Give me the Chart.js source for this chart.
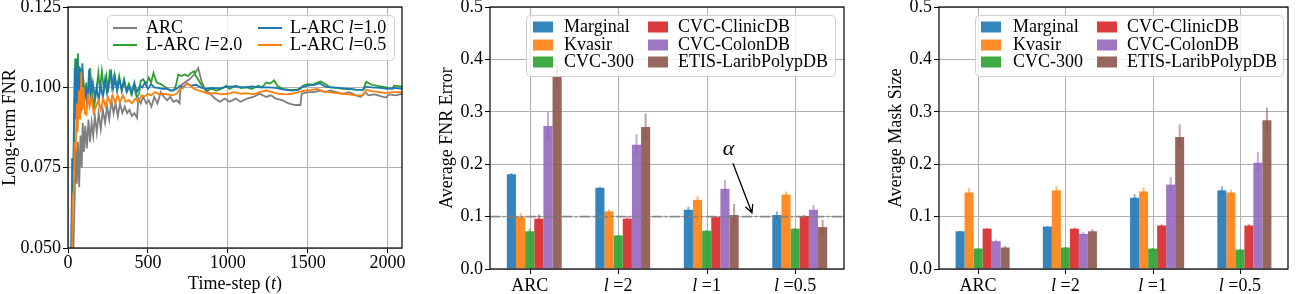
<!DOCTYPE html>
<html lang="en">
<head>
<meta charset="UTF-8">
<title>Long-term FNR, average FNR error and average mask size</title>
<script src="https://cdn.jsdelivr.net/npm/chart.js@4.4.1/dist/chart.umd.min.js"></script>
<style>
    body { margin: 0; background: #fff; }
    .panel { position: absolute; top: 0; height: 294px; }
    #p1 { left: 0; }
    #p2 { left: 420px; }
    #p3 { left: 860px; }
    canvas { display: block; }
</style>
</head>
<body>
<div class="panel" id="p1"><canvas id="fnrChart" width="420" height="294"></canvas></div>
<div class="panel" id="p2"><canvas id="errChart" width="440" height="294"></canvas></div>
<div class="panel" id="p3"><canvas id="maskChart" width="437" height="294"></canvas></div>

<script>
// ---------- values ----------

// left panel: long-term FNR over time, [time-step, value]
const arcFnr = [
    [25, 0.030], [40, 0.062], [48, 0.081], [55, 0.070], [62, 0.083], [70, 0.069], [78, 0.085], [86, 0.075],
    [92, 0.089], [100, 0.080], [108, 0.088], [118, 0.081], [128, 0.090], [138, 0.083], [148, 0.089], [158, 0.085],
    [168, 0.091], [180, 0.086], [192, 0.092], [205, 0.087], [218, 0.093], [232, 0.089], [245, 0.094], [258, 0.090],
    [272, 0.096], [285, 0.092], [298, 0.095], [312, 0.091], [325, 0.095], [340, 0.092], [355, 0.094], [370, 0.092],
    [385, 0.093], [400, 0.091], [415, 0.092], [432, 0.0905], [440, 0.0965], [455, 0.095], [470, 0.097], [490, 0.095],
    [505, 0.096], [522, 0.094], [540, 0.097], [560, 0.095], [580, 0.0985], [600, 0.097], [620, 0.096], [640, 0.097],
    [660, 0.0955], [680, 0.096], [698, 0.095], [705, 0.1005], [730, 0.1015], [760, 0.1025], [790, 0.104], [815, 0.106],
    [835, 0.102], [860, 0.099], [890, 0.098], [920, 0.0965], [950, 0.0955], [980, 0.0965], [1010, 0.0955], [1050, 0.0965],
    [1080, 0.0955], [1120, 0.0965], [1160, 0.097], [1200, 0.098], [1240, 0.097], [1270, 0.0975], [1300, 0.0965], [1340, 0.096],
    [1380, 0.095], [1420, 0.0945], [1455, 0.0945], [1462, 0.098], [1500, 0.0985], [1540, 0.0985], [1575, 0.099], [1610, 0.0985],
    [1640, 0.099], [1680, 0.0985], [1720, 0.098], [1760, 0.0985], [1790, 0.0978], [1830, 0.097], [1860, 0.0985], [1880, 0.0975],
    [1920, 0.0978], [1960, 0.0972], [1990, 0.0968], [2010, 0.0978], [2050, 0.0975], [2090, 0.098]
];
const larc20Fnr = [
    [18, 0.030], [28, 0.078], [35, 0.074], [45, 0.109], [52, 0.095], [62, 0.1105], [70, 0.094], [78, 0.106],
    [86, 0.098], [95, 0.103], [105, 0.096], [115, 0.1015], [125, 0.095], [137, 0.106], [150, 0.099], [162, 0.0935],
    [175, 0.098], [190, 0.1045], [200, 0.099], [212, 0.105], [225, 0.099], [240, 0.1035], [252, 0.0985], [262, 0.1055],
    [275, 0.100], [290, 0.104], [305, 0.0995], [320, 0.1035], [335, 0.099], [350, 0.1025], [365, 0.099], [380, 0.101],
    [395, 0.098], [410, 0.1005], [430, 0.097], [445, 0.098], [455, 0.102], [470, 0.1025], [490, 0.101], [505, 0.103],
    [520, 0.1015], [535, 0.1045], [555, 0.1015], [580, 0.101], [610, 0.100], [640, 0.099], [660, 0.099], [675, 0.1005],
    [690, 0.104], [710, 0.1035], [730, 0.104], [750, 0.1035], [770, 0.1045], [790, 0.105], [800, 0.1035], [820, 0.102],
    [845, 0.100], [870, 0.099], [900, 0.0995], [930, 0.099], [960, 0.0995], [990, 0.1005], [1010, 0.0995], [1050, 0.1005],
    [1080, 0.0998], [1120, 0.100], [1150, 0.0995], [1190, 0.1005], [1215, 0.100], [1240, 0.1015], [1265, 0.1012], [1290, 0.1022],
    [1310, 0.1005], [1345, 0.0995], [1380, 0.0993], [1420, 0.0992], [1455, 0.0995], [1470, 0.1005], [1500, 0.101], [1530, 0.1008],
    [1560, 0.1015], [1580, 0.1018], [1610, 0.101], [1640, 0.100], [1680, 0.0998], [1720, 0.0995], [1760, 0.0995], [1800, 0.0993],
    [1846, 0.0992], [1866, 0.1017], [1900, 0.1008], [1930, 0.1005], [1990, 0.100], [2030, 0.0995], [2040, 0.1005], [2090, 0.1002]
];
const larc10Fnr = [
    [15, 0.030], [27, 0.078], [33, 0.074], [42, 0.106], [48, 0.090], [54, 0.109], [62, 0.094], [72, 0.1065],
    [80, 0.092], [90, 0.1075], [100, 0.096], [110, 0.1005], [121, 0.094], [132, 0.1055], [142, 0.097], [155, 0.1015],
    [168, 0.097], [180, 0.100], [192, 0.096], [205, 0.1005], [218, 0.097], [232, 0.1025], [245, 0.098], [258, 0.102],
    [270, 0.1045], [282, 0.0995], [295, 0.103], [308, 0.099], [322, 0.1025], [338, 0.099], [352, 0.102], [368, 0.0985],
    [385, 0.1005], [400, 0.098], [415, 0.1015], [430, 0.0985], [450, 0.1005], [465, 0.100], [480, 0.1015], [500, 0.0995],
    [520, 0.101], [540, 0.100], [560, 0.0998], [590, 0.0995], [620, 0.0995], [650, 0.099], [680, 0.0995], [700, 0.1005],
    [720, 0.100], [745, 0.1012], [770, 0.1005], [800, 0.1008], [830, 0.100], [860, 0.0995], [900, 0.0998], [950, 0.0997],
    [1000, 0.1002], [1050, 0.1003], [1100, 0.100], [1150, 0.1003], [1200, 0.100], [1250, 0.100], [1300, 0.0998], [1350, 0.0993],
    [1400, 0.099], [1440, 0.0992], [1460, 0.100], [1500, 0.1005], [1540, 0.1008], [1575, 0.1012], [1610, 0.1002], [1650, 0.100],
    [1700, 0.0998], [1750, 0.0995], [1800, 0.0993], [1846, 0.0992], [1866, 0.1002], [1900, 0.100], [1950, 0.0998], [2000, 0.0995],
    [2040, 0.0998], [2090, 0.0995]
];
const larc05Fnr = [
    [20, 0.030], [30, 0.066], [36, 0.068], [42, 0.083], [48, 0.080], [55, 0.095], [60, 0.086], [68, 0.099],
    [75, 0.090], [83, 0.1048], [90, 0.093], [97, 0.100], [105, 0.092], [115, 0.0915], [125, 0.098], [135, 0.094],
    [148, 0.097], [160, 0.092], [175, 0.094], [190, 0.096], [205, 0.093], [220, 0.0965], [235, 0.094], [250, 0.097],
    [265, 0.095], [280, 0.0975], [295, 0.095], [310, 0.0975], [325, 0.0955], [345, 0.0975], [360, 0.0955], [380, 0.096],
    [400, 0.095], [420, 0.0965], [440, 0.0955], [460, 0.0975], [480, 0.0972], [500, 0.098], [520, 0.0975], [545, 0.0985],
    [570, 0.0978], [595, 0.098], [620, 0.0978], [650, 0.0975], [680, 0.098], [700, 0.0995], [720, 0.0998], [745, 0.1012],
    [765, 0.1005], [790, 0.0995], [820, 0.099], [850, 0.0985], [880, 0.098], [920, 0.0983], [960, 0.0978], [1000, 0.098],
    [1040, 0.0985], [1080, 0.098], [1120, 0.0982], [1160, 0.0978], [1200, 0.0985], [1240, 0.099], [1280, 0.0985], [1320, 0.098],
    [1360, 0.0978], [1400, 0.098], [1440, 0.0985], [1480, 0.099], [1520, 0.0992], [1560, 0.0995], [1590, 0.0988], [1630, 0.0985],
    [1670, 0.0983], [1720, 0.098], [1760, 0.0978], [1800, 0.0975], [1846, 0.0975], [1866, 0.0992], [1900, 0.0988], [1950, 0.0985],
    [1990, 0.0982], [2030, 0.0985], [2090, 0.0985]
];
const lineLabels = ['ARC', 'L-ARC *l*=2.0', 'L-ARC *l*=1.0', 'L-ARC *l*=0.5'];
const lineColors = ['#7f7f7f', '#2ca02c', '#1f77b4', '#ff7f0e'];
const fnrTicks = [0.050, 0.075, 0.100, 0.125];
const timeTicks = [0, 500, 1000, 1500, 2000];

// bar panels: one row per dataset, one value per method
const methods = ['ARC', '*l* =2', '*l* =1', '*l* =0.5'];
const datasetNames = ['Marginal', 'Kvasir', 'CVC-300', 'CVC-ClinicDB', 'CVC-ColonDB', 'ETIS-LaribPolypDB'];
const barColors = ['31,119,180', '255,127,14', '44,160,44', '214,39,40', '148,103,189', '140,86,75'];

const fnrErrMean = [
    [0.181, 0.155, 0.113, 0.103],
    [0.099, 0.110, 0.132, 0.142],
    [0.072, 0.064, 0.073, 0.077],
    [0.096, 0.096, 0.099, 0.101],
    [0.273, 0.237, 0.153, 0.113],
    [0.368, 0.271, 0.103, 0.080]
];
const fnrErrSpread = [
    [0.002, 0.002, 0.006, 0.007],
    [0.008, 0.004, 0.007, 0.006],
    [0.005, 0.001, 0.001, 0.001],
    [0.008, 0.003, 0.002, 0.002],
    [0.027, 0.020, 0.017, 0.009],
    [0.021, 0.026, 0.021, 0.014]
];
const maskMean = [
    [0.072, 0.081, 0.136, 0.150],
    [0.146, 0.150, 0.148, 0.146],
    [0.039, 0.041, 0.039, 0.037],
    [0.077, 0.077, 0.083, 0.083],
    [0.053, 0.067, 0.161, 0.203],
    [0.041, 0.072, 0.252, 0.284]
];
const maskSpread = [
    [0.001, 0.001, 0.007, 0.008],
    [0.008, 0.008, 0.008, 0.006],
    [0.001, 0.001, 0.001, 0.001],
    [0.001, 0.002, 0.002, 0.002],
    [0.003, 0.004, 0.014, 0.020],
    [0.003, 0.004, 0.024, 0.024]
];
const alphaLevel = 0.1;

// ---------- drawing helpers ----------
const FONT_FAMILY = '"Liberation Serif", "Times New Roman", serif';
const FONT_SIZE = 18;
Chart.defaults.font.family = FONT_FAMILY;
Chart.defaults.font.size = FONT_SIZE;
Chart.defaults.color = '#000';
Chart.defaults.animation = false;

// labels use *...* to mark italic pieces (math symbols)
function richParts(label) {
    return label.split('*').map((s, i) => ({ text: s, italic: i % 2 === 1 })).filter(p => p.text);
}
function fontFor(size, italic) {
    return (italic ? 'italic ' : '') + size + 'px ' + FONT_FAMILY;
}
function drawRich(ctx, label, x, y, size, align) {
    const parts = richParts(label);
    let total = 0;
    parts.forEach(p => {
        ctx.font = fontFor(size, p.italic);
        p.w = ctx.measureText(p.text).width;
        total += p.w;
    });
    let cx = align === 'center' ? x - total / 2 : (align === 'right' ? x - total : x);
    ctx.textAlign = 'left';
    ctx.textBaseline = 'middle';
    parts.forEach(p => {
        ctx.font = fontFor(size, p.italic);
        ctx.fillText(p.text, cx, y);
        cx += p.w;
    });
}
function drawYTitle(ctx, text, x, y) {
    ctx.save();
    ctx.translate(x, y);
    ctx.rotate(-Math.PI / 2);
    ctx.fillStyle = '#000';
    drawRich(ctx, text, 0, 0, FONT_SIZE, 'center');
    ctx.restore();
}
function drawSpines(ctx, area) {
    ctx.save();
    ctx.strokeStyle = '#000';
    ctx.lineWidth = 1.2;
    ctx.strokeRect(area.left, area.top, area.right - area.left, area.bottom - area.top);
    ctx.restore();
}
function drawLegend(ctx, spec, labels, colors, kind) {
    ctx.save();
    ctx.beginPath();
    if (ctx.roundRect) ctx.roundRect(spec.box[0] + 0.5, spec.box[1] + 0.5, spec.box[2], spec.box[3], 4);
    else ctx.rect(spec.box[0] + 0.5, spec.box[1] + 0.5, spec.box[2], spec.box[3]);
    ctx.fillStyle = 'rgba(255,255,255,0.8)';
    ctx.fill();
    ctx.strokeStyle = '#d0d0d0';
    ctx.lineWidth = 1;
    ctx.stroke();
    labels.forEach((lab, i) => {
        const col = Math.floor(i / spec.rows.length);
        const y = spec.rows[i % spec.rows.length];
        const hx = spec.handleX[col];
        if (kind === 'line') {
            ctx.strokeStyle = colors[i];
            ctx.lineWidth = 2;
            ctx.beginPath();
            ctx.moveTo(hx, y);
            ctx.lineTo(hx + spec.handleW, y);
            ctx.stroke();
        } else {
            ctx.fillStyle = 'rgba(' + colors[i] + ',0.9)';
            ctx.fillRect(hx, y - spec.handleH / 2, spec.handleW, spec.handleH);
        }
        ctx.fillStyle = '#000';
        drawRich(ctx, lab, spec.textX[col], y, FONT_SIZE, 'left');
    });
    ctx.restore();
}

// pin the plotting area to fixed pixels
function fixWidth(w) {
    return s => { s.width = w; s.paddingLeft = s.paddingRight = s.paddingTop = s.paddingBottom = 0; };
}
function fixHeight(h) {
    return s => { s.height = h; s.paddingLeft = s.paddingRight = s.paddingTop = s.paddingBottom = 0; };
}

// ---------- left panel: long-term FNR ----------
const lineSeries = [arcFnr, larc20Fnr, larc10Fnr, larc05Fnr];

new Chart(document.getElementById('fnrChart'), {
    type: 'line',
    data: {
        datasets: lineSeries.map((pts, i) => ({
            label: lineLabels[i].replace(/\*/g, ''),
            data: pts.map(([t, v]) => ({ x: t, y: v })),
            borderColor: lineColors[i],
            borderWidth: 1.8,
            pointRadius: 0,
            tension: 0,
            order: lineSeries.length - i
        }))
    },
    options: {
        responsive: false,
        layout: { padding: { top: 7, right: 18, left: 0, bottom: 0 } },
        plugins: { legend: { display: false }, tooltip: { enabled: false } },
        scales: {
            x: {
                type: 'linear',
                min: 0,
                max: 2090,
                afterBuildTicks: s => { s.ticks = timeTicks.map(v => ({ value: v })); },
                afterFit: fixHeight(46),
                ticks: { padding: 1, maxRotation: 0, font: { lineHeight: 1 }, callback: v => String(v) },
                grid: { color: '#b0b0b0', tickColor: '#000', tickLength: 5 },
                border: { display: false }
            },
            y: {
                min: 0.05,
                max: 0.125,
                afterBuildTicks: s => { s.ticks = fnrTicks.map(v => ({ value: v })); },
                afterFit: fixWidth(68),
                ticks: { padding: 2, callback: v => v.toFixed(3) },
                grid: { color: '#b0b0b0', tickColor: '#000', tickLength: 5 },
                border: { display: false }
            }
        }
    },
    plugins: [{
        id: 'fnrDecor',
        afterDraw(chart) {
            const ctx = chart.ctx, area = chart.chartArea;
            drawSpines(ctx, area);
            drawLegend(ctx, {
                box: [107, 15, 287, 45],
                rows: [28, 45],
                handleX: [113, 258], handleW: 24,
                textX: [146, 290]
            }, lineLabels, lineColors, 'line');
            ctx.fillStyle = '#000';
            drawRich(ctx, 'Time-step (*t*)', (area.left + area.right) / 2, 284, FONT_SIZE, 'center');
            drawYTitle(ctx, 'Long-term FNR', 10, (area.top + area.bottom) / 2);
        }
    }]
});

// ---------- bar panels ----------
function barChart(canvasId, means, spreads, opts) {
    const yTicks = [0, 0.1, 0.2, 0.3, 0.4, 0.5];
    return new Chart(document.getElementById(canvasId), {
        type: 'bar',
        data: {
            labels: methods,
            datasets: datasetNames.map((name, k) => ({
                label: name,
                data: means[k],
                backgroundColor: 'rgba(' + barColors[k] + ',0.9)',
                borderWidth: 0,
                categoryPercentage: 0.62,
                barPercentage: 1.0
            }))
        },
        options: {
            responsive: false,
            layout: { padding: { top: 7, right: opts.right, left: 0, bottom: 0 } },
            plugins: { legend: { display: false }, tooltip: { enabled: false } },
            scales: {
                x: {
                    offset: true,
                    afterFit: fixHeight(25),
                    ticks: { display: false },
                    grid: { display: false },
                    border: { display: false }
                },
                y: {
                    min: 0,
                    max: 0.5,
                    afterBuildTicks: s => { s.ticks = yTicks.map(v => ({ value: v })); },
                    afterFit: fixWidth(opts.left),
                    ticks: { padding: 2, callback: v => v.toFixed(1) },
                    grid: { color: '#b0b0b0', tickColor: '#000', tickLength: 5 },
                    border: { display: false }
                }
            }
        },
        plugins: [{
            id: canvasId + 'Decor',
            beforeDatasetsDraw(chart) {
                // ticks sit under the third bar of each group, as in the source figure
                const ctx = chart.ctx, area = chart.chartArea;
                const anchor = chart.getDatasetMeta(2).data;
                ctx.save();
                anchor.forEach((bar, i) => {
                    const x = Math.round(bar.x) + 0.5;
                    ctx.strokeStyle = '#b0b0b0';
                    ctx.lineWidth = 1;
                    ctx.beginPath();
                    ctx.moveTo(x, area.top);
                    ctx.lineTo(x, area.bottom);
                    ctx.stroke();
                    ctx.strokeStyle = '#000';
                    ctx.beginPath();
                    ctx.moveTo(x, area.bottom);
                    ctx.lineTo(x, area.bottom + 5);
                    ctx.stroke();
                    ctx.fillStyle = '#000';
                    drawRich(ctx, methods[i], bar.x, 286, FONT_SIZE, 'center');
                });
                ctx.restore();
            },
            afterDatasetsDraw(chart) {
                const ctx = chart.ctx, yScale = chart.scales.y;
                ctx.save();
                ctx.lineWidth = 2;
                datasetNames.forEach((name, k) => {
                    ctx.strokeStyle = 'rgba(' + barColors[k] + ',0.55)';
                    chart.getDatasetMeta(k).data.forEach((bar, i) => {
                        ctx.beginPath();
                        ctx.moveTo(bar.x, yScale.getPixelForValue(means[k][i] - spreads[k][i]));
                        ctx.lineTo(bar.x, yScale.getPixelForValue(means[k][i] + spreads[k][i]));
                        ctx.stroke();
                    });
                });
                ctx.restore();
                if (opts.extra) opts.extra(chart);
            },
            afterDraw(chart) {
                const ctx = chart.ctx, area = chart.chartArea;
                drawSpines(ctx, area);
                drawLegend(ctx, opts.legend, datasetNames, barColors, 'patch');
                drawYTitle(ctx, opts.title, opts.titleX, (area.top + area.bottom) / 2);
            }
        }]
    });
}

// target level line and the alpha annotation
function drawAlpha(chart) {
    const ctx = chart.ctx, area = chart.chartArea;
    const xs = chart.scales.x, ys = chart.scales.y;
    const y = ys.getPixelForValue(alphaLevel);
    ctx.save();
    ctx.strokeStyle = 'rgba(128,128,128,0.85)';
    ctx.lineWidth = 1.8;
    ctx.setLineDash([10, 3, 2, 3]);
    ctx.beginPath();
    ctx.moveTo(area.left, y);
    ctx.lineTo(area.right, y);
    ctx.stroke();
    ctx.setLineDash([]);

    const x0 = xs.getPixelForValue(2.245), y0 = ys.getPixelForValue(0.202);
    const x1 = xs.getPixelForValue(2.46), y1 = ys.getPixelForValue(0.107);
    ctx.strokeStyle = '#000';
    ctx.lineWidth = 1.3;
    ctx.beginPath();
    ctx.moveTo(x0, y0);
    ctx.lineTo(x1, y1);
    const ang = Math.atan2(y1 - y0, x1 - x0);
    ctx.moveTo(x1 - 9 * Math.cos(ang - 0.45), y1 - 9 * Math.sin(ang - 0.45));
    ctx.lineTo(x1, y1);
    ctx.lineTo(x1 - 9 * Math.cos(ang + 0.45), y1 - 9 * Math.sin(ang + 0.45));
    ctx.stroke();
    ctx.fillStyle = '#000';
    drawRich(ctx, '*α*', xs.getPixelForValue(2.195), ys.getPixelForValue(0.229), 22, 'center');
    ctx.restore();
}

barChart('errChart', fnrErrMean, fnrErrSpread, {
    left: 70, right: 16, title: 'Average FNR Error', titleX: 27,
    legend: {
        box: [106, 15, 309, 61],
        rows: [27, 45, 62],
        handleX: [113, 228], handleW: 20, handleH: 11,
        textX: [144, 258]
    },
    extra: drawAlpha
});

barChart('maskChart', maskMean, maskSpread, {
    left: 79, right: 9, title: 'Average Mask Size', titleX: 36,
    legend: {
        box: [115, 15, 308, 61],
        rows: [27, 45, 62],
        handleX: [121, 237], handleW: 20, handleH: 11,
        textX: [153, 267]
    }
});
</script>
</body>
</html>
